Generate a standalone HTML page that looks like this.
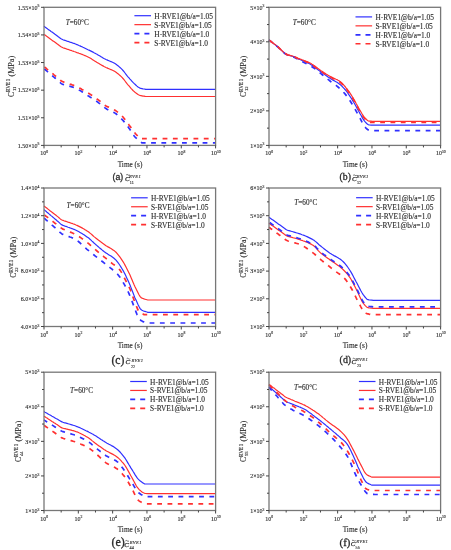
<!DOCTYPE html><html><head><meta charset="utf-8"><style>html,body{margin:0;padding:0;background:#fff;}svg{display:block;}svg{will-change:transform;}text{font-family:"Liberation Serif",serif;fill:#2a2a2a;stroke:#2a2a2a;stroke-width:0.12px;}</style></head><body>
<svg width="451" height="550" viewBox="0 0 451 550">
<rect width="451" height="550" fill="#fff"/>
<g><path d="M44.0 26.2 45.0 27.0 46.0 27.7 47.0 28.4 48.0 29.2 49.0 29.9 50.0 30.6 51.0 31.4 52.0 32.1 53.0 32.8 54.0 33.5 55.0 34.3 56.0 35.0 57.0 35.7 58.0 36.5 59.0 37.2 60.0 38.1 61.0 38.8 62.0 39.3 63.0 39.8 64.0 40.1 65.0 40.4 66.0 40.7 67.0 41.1 68.0 41.4 69.0 41.7 70.0 42.1 71.0 42.4 72.0 42.7 73.0 43.1 74.0 43.4 75.0 43.8 76.0 44.2 77.0 44.6 78.0 45.0 79.0 45.5 80.0 45.9 81.0 46.4 82.0 46.8 83.0 47.3 84.0 47.7 85.0 48.2 86.0 48.7 87.0 49.2 88.0 49.7 89.0 50.1 90.0 50.6 91.0 51.1 92.0 51.6 93.0 52.1 94.0 52.7 95.0 53.2 96.0 53.8 97.0 54.3 98.0 54.9 99.0 55.5 100.0 56.1 101.0 56.7 102.0 57.3 103.0 57.9 104.0 58.5 105.0 59.0 106.0 59.5 107.0 59.9 108.0 60.4 109.0 60.8 110.0 61.2 111.0 61.6 112.0 62.0 113.0 62.5 114.0 63.0 115.0 63.6 116.0 64.2 117.0 65.0 118.0 65.7 119.0 66.6 120.0 67.5 121.0 68.4 122.0 69.4 123.0 70.5 124.0 71.7 125.0 73.0 126.0 74.3 127.0 75.6 128.0 76.8 129.0 77.9 130.0 79.1 131.0 80.2 132.0 81.3 133.0 82.4 134.0 83.4 135.0 84.3 136.0 85.2 137.0 86.1 138.0 86.9 139.0 87.6 140.0 88.1 141.0 88.4 142.0 88.7 143.0 88.9 144.0 89.0 145.0 89.2 145.5 89.3 H215.6" fill="none" stroke="#3030ff" stroke-width="1.2"/><path d="M44.0 34.4 45.0 35.1 46.0 35.8 47.0 36.6 48.0 37.3 49.0 38.0 50.0 38.7 51.0 39.4 52.0 40.2 53.0 40.9 54.0 41.6 55.0 42.3 56.0 43.0 57.0 43.8 58.0 44.5 59.0 45.3 60.0 46.1 61.0 46.8 62.0 47.3 63.0 47.8 64.0 48.1 65.0 48.4 66.0 48.7 67.0 49.1 68.0 49.4 69.0 49.7 70.0 50.1 71.0 50.4 72.0 50.8 73.0 51.1 74.0 51.5 75.0 51.8 76.0 52.2 77.0 52.6 78.0 52.9 79.0 53.3 80.0 53.6 81.0 54.0 82.0 54.4 83.0 54.8 84.0 55.2 85.0 55.6 86.0 56.0 87.0 56.5 88.0 57.0 89.0 57.5 90.0 58.0 91.0 58.6 92.0 59.3 93.0 59.9 94.0 60.6 95.0 61.2 96.0 61.8 97.0 62.4 98.0 63.0 99.0 63.6 100.0 64.2 101.0 64.8 102.0 65.4 103.0 65.9 104.0 66.5 105.0 67.0 106.0 67.5 107.0 67.9 108.0 68.4 109.0 68.8 110.0 69.2 111.0 69.6 112.0 70.0 113.0 70.5 114.0 71.0 115.0 71.6 116.0 72.2 117.0 73.0 118.0 73.7 119.0 74.6 120.0 75.5 121.0 76.4 122.0 77.4 123.0 78.5 124.0 79.7 125.0 81.0 126.0 82.3 127.0 83.6 128.0 84.8 129.0 85.9 130.0 87.1 131.0 88.3 132.0 89.4 133.0 90.5 134.0 91.4 135.0 92.3 136.0 93.1 137.0 93.8 138.0 94.5 139.0 95.0 140.0 95.4 141.0 95.7 142.0 95.9 143.0 96.1 144.0 96.2 145.0 96.4 145.5 96.5 H215.6" fill="none" stroke="#ff3030" stroke-width="1.2"/><path d="M215.6 142.8 H141.9 L 141.0 142.1 140.0 141.3 139.0 140.5 138.0 139.8 137.0 138.9 136.0 138.0 135.0 137.0 134.0 135.7 133.0 134.3 132.0 132.7 131.0 131.1 130.0 129.6 129.0 128.2 128.0 126.8 127.0 125.5 126.0 124.1 125.0 122.8 124.0 121.6 123.0 120.4 122.0 119.4 121.0 118.3 120.0 117.3 119.0 116.3 118.0 115.4 117.0 114.6 116.0 113.8 115.0 113.1 114.0 112.5 113.0 112.0 112.0 111.5 111.0 111.1 110.0 110.6 109.0 110.2 108.0 109.7 107.0 109.2 106.0 108.6 105.0 107.9 104.0 107.2 103.0 106.3 102.0 105.5 101.0 104.6 100.0 103.8 99.0 103.1 98.0 102.3 97.0 101.6 96.0 100.9 95.0 100.2 94.0 99.6 93.0 98.9 92.0 98.3 91.0 97.6 90.0 97.0 89.0 96.3 88.0 95.7 87.0 95.0 86.0 94.4 85.0 93.7 84.0 93.0 83.0 92.4 82.0 91.7 81.0 91.1 80.0 90.4 79.0 89.9 78.0 89.3 77.0 88.8 76.0 88.3 75.0 87.9 74.0 87.6 73.0 87.2 72.0 86.9 71.0 86.6 70.0 86.3 69.0 86.1 68.0 85.8 67.0 85.5 66.0 85.2 65.0 84.9 64.0 84.7 63.0 84.4 62.0 84.0 61.0 83.4 60.0 82.5 59.0 81.5 58.0 80.6 57.0 79.7 56.0 78.9 55.0 78.0 54.0 77.2 53.0 76.3 52.0 75.4 51.0 74.6 50.0 73.7 49.0 72.9 48.0 72.0 47.0 71.2 46.0 70.3 45.0 69.5 44.0 68.6" fill="none" stroke="#3030ff" stroke-width="1.7" stroke-dasharray="4.8 5.5" stroke-dashoffset="2.10"/><path d="M215.6 138.6 H139.9 L 139.0 137.6 138.0 136.5 137.0 135.3 136.0 134.2 135.0 133.0 134.0 131.7 133.0 130.3 132.0 129.0 131.0 127.6 130.0 126.2 129.0 124.9 128.0 123.5 127.0 122.2 126.0 120.8 125.0 119.4 124.0 118.2 123.0 117.0 122.0 116.0 121.0 115.0 120.0 114.1 119.0 113.2 118.0 112.4 117.0 111.6 116.0 110.9 115.0 110.2 114.0 109.6 113.0 109.1 112.0 108.6 111.0 108.2 110.0 107.7 109.0 107.3 108.0 106.9 107.0 106.4 106.0 105.9 105.0 105.3 104.0 104.6 103.0 103.8 102.0 103.0 101.0 102.1 100.0 101.2 99.0 100.4 98.0 99.7 97.0 99.0 96.0 98.2 95.0 97.5 94.0 96.8 93.0 96.1 92.0 95.4 91.0 94.8 90.0 94.1 89.0 93.5 88.0 92.9 87.0 92.3 86.0 91.7 85.0 91.1 84.0 90.5 83.0 89.9 82.0 89.4 81.0 88.8 80.0 88.3 79.0 87.8 78.0 87.3 77.0 86.8 76.0 86.3 75.0 85.9 74.0 85.5 73.0 85.1 72.0 84.8 71.0 84.4 70.0 84.1 69.0 83.7 68.0 83.4 67.0 83.1 66.0 82.7 65.0 82.4 64.0 82.1 63.0 81.7 62.0 81.3 61.0 80.7 60.0 79.8 59.0 78.9 58.0 78.0 57.0 77.2 56.0 76.4 55.0 75.6 54.0 74.8 53.0 73.9 52.0 73.1 51.0 72.3 50.0 71.5 49.0 70.7 48.0 69.9 47.0 69.1 46.0 68.2 45.0 67.4 44.0 66.6" fill="none" stroke="#ff3030" stroke-width="1.7" stroke-dasharray="4.8 5.5" stroke-dashoffset="3.30"/><rect x="44.00" y="7.30" width="171.60" height="138.10" fill="none" stroke="#777" stroke-width="1.3"/><line x1="44.00" y1="145.40" x2="44.00" y2="148.40" stroke="#444" stroke-width="1"/><text x="44.20" y="155.40" font-size="6" text-anchor="middle">10<tspan font-size="3.8" dy="-2.2">0</tspan></text><line x1="61.16" y1="145.40" x2="61.16" y2="147.40" stroke="#444" stroke-width="1"/><line x1="78.32" y1="145.40" x2="78.32" y2="148.40" stroke="#444" stroke-width="1"/><text x="78.52" y="155.40" font-size="6" text-anchor="middle">10<tspan font-size="3.8" dy="-2.2">2</tspan></text><line x1="95.48" y1="145.40" x2="95.48" y2="147.40" stroke="#444" stroke-width="1"/><line x1="112.64" y1="145.40" x2="112.64" y2="148.40" stroke="#444" stroke-width="1"/><text x="112.84" y="155.40" font-size="6" text-anchor="middle">10<tspan font-size="3.8" dy="-2.2">4</tspan></text><line x1="129.80" y1="145.40" x2="129.80" y2="147.40" stroke="#444" stroke-width="1"/><line x1="146.96" y1="145.40" x2="146.96" y2="148.40" stroke="#444" stroke-width="1"/><text x="147.16" y="155.40" font-size="6" text-anchor="middle">10<tspan font-size="3.8" dy="-2.2">6</tspan></text><line x1="164.12" y1="145.40" x2="164.12" y2="147.40" stroke="#444" stroke-width="1"/><line x1="181.28" y1="145.40" x2="181.28" y2="148.40" stroke="#444" stroke-width="1"/><text x="181.48" y="155.40" font-size="6" text-anchor="middle">10<tspan font-size="3.8" dy="-2.2">8</tspan></text><line x1="198.44" y1="145.40" x2="198.44" y2="147.40" stroke="#444" stroke-width="1"/><line x1="215.60" y1="145.40" x2="215.60" y2="148.40" stroke="#444" stroke-width="1"/><text x="215.80" y="155.40" font-size="6" text-anchor="middle">10<tspan font-size="3.8" dy="-2.2">10</tspan></text><line x1="41.00" y1="7.30" x2="44.00" y2="7.30" stroke="#444" stroke-width="1"/><text x="39.50" y="9.50" font-size="6" text-anchor="end">1.55×10<tspan font-size="3.8" dy="-2.2">5</tspan></text><line x1="41.00" y1="34.92" x2="44.00" y2="34.92" stroke="#444" stroke-width="1"/><text x="39.50" y="37.12" font-size="6" text-anchor="end">1.54×10<tspan font-size="3.8" dy="-2.2">5</tspan></text><line x1="41.00" y1="62.54" x2="44.00" y2="62.54" stroke="#444" stroke-width="1"/><text x="39.50" y="64.74" font-size="6" text-anchor="end">1.53×10<tspan font-size="3.8" dy="-2.2">5</tspan></text><line x1="41.00" y1="90.16" x2="44.00" y2="90.16" stroke="#444" stroke-width="1"/><text x="39.50" y="92.36" font-size="6" text-anchor="end">1.52×10<tspan font-size="3.8" dy="-2.2">5</tspan></text><line x1="41.00" y1="117.78" x2="44.00" y2="117.78" stroke="#444" stroke-width="1"/><text x="39.50" y="119.98" font-size="6" text-anchor="end">1.51×10<tspan font-size="3.8" dy="-2.2">5</tspan></text><line x1="41.00" y1="145.40" x2="44.00" y2="145.40" stroke="#444" stroke-width="1"/><text x="39.50" y="147.60" font-size="6" text-anchor="end">1.50×10<tspan font-size="3.8" dy="-2.2">5</tspan></text><text x="130.00" y="167.00" font-size="7.3" text-anchor="middle">Time (s)</text><text transform="translate(13.70 96.95) rotate(-90)"><tspan x="0" y="0" font-size="7.6">C</tspan><tspan x="5.0" y="-3.5" font-size="5.4">RVE1</tspan><tspan x="5.9" y="1.9" font-size="4.6">11</tspan><tspan x="20.4" y="0" font-size="8.1">(MPa)</tspan></text><text x="65.80" y="24.90" font-size="7.2"><tspan font-style="italic">T</tspan>=60°C</text><line x1="134.40" y1="15.70" x2="151.00" y2="15.70" stroke="#3030ff" stroke-width="1.2"/><text x="154.30" y="18.70" font-size="7.4">H-RVE1@b/a=1.05</text><line x1="134.40" y1="24.65" x2="151.00" y2="24.65" stroke="#ff3030" stroke-width="1.2"/><text x="154.30" y="27.65" font-size="7.4">S-RVE1@b/a=1.05</text><line x1="134.40" y1="33.60" x2="151.00" y2="33.60" stroke="#3030ff" stroke-width="1.7" stroke-dasharray="5 5" /><text x="154.30" y="36.60" font-size="7.4">H-RVE1@b/a=1.0</text><line x1="134.40" y1="42.55" x2="151.00" y2="42.55" stroke="#ff3030" stroke-width="1.7" stroke-dasharray="5 5" /><text x="154.30" y="45.55" font-size="7.4">S-RVE1@b/a=1.0</text><text x="112.60" y="179.60" font-size="8.70" style="font-family:&quot;Liberation Sans&quot;,sans-serif;stroke-width:0.3px">(a)</text><text x="125.00" y="180.50" font-size="7" font-style="italic" style="stroke-width:0.25px">C</text><path d="M126.20 174.90 q0.9 -0.9 1.8 0 t1.8 0" fill="none" stroke="#333" stroke-width="0.7"/><text x="129.00" y="178.20" font-size="4.6" font-style="italic" letter-spacing="0.35">RVE1</text><text x="129.80" y="184.20" font-size="4.2">11</text></g>
<g><path d="M269.0 40.0 270.0 40.8 271.0 41.5 272.0 42.3 273.0 43.1 274.0 43.9 275.0 44.6 276.0 45.4 277.0 46.2 278.0 47.0 279.0 47.9 280.0 48.9 281.0 49.9 282.0 50.9 283.0 51.8 284.0 52.7 285.0 53.4 286.0 54.1 287.0 54.5 288.0 55.0 289.0 55.3 290.0 55.6 291.0 55.9 292.0 56.2 293.0 56.5 294.0 56.9 295.0 57.3 296.0 57.7 297.0 58.2 298.0 58.6 299.0 59.1 300.0 59.5 301.0 60.0 302.0 60.4 303.0 60.8 304.0 61.3 305.0 61.7 306.0 62.1 307.0 62.6 308.0 63.0 309.0 63.5 310.0 64.1 311.0 64.7 312.0 65.3 313.0 66.0 314.0 66.7 315.0 67.4 316.0 68.2 317.0 68.9 318.0 69.7 319.0 70.4 320.0 71.2 321.0 71.9 322.0 72.6 323.0 73.3 324.0 74.1 325.0 74.8 326.0 75.5 327.0 76.2 328.0 76.9 329.0 77.6 330.0 78.3 331.0 78.9 332.0 79.5 333.0 80.1 334.0 80.6 335.0 81.2 336.0 81.8 337.0 82.3 338.0 83.0 339.0 83.7 340.0 84.4 341.0 85.3 342.0 86.2 343.0 87.3 344.0 88.4 345.0 89.5 346.0 90.7 347.0 92.0 348.0 93.3 349.0 94.8 350.0 96.3 351.0 97.8 352.0 99.4 353.0 101.1 354.0 102.7 355.0 104.5 356.0 106.3 357.0 108.2 358.0 110.0 359.0 111.8 360.0 113.6 361.0 115.3 362.0 117.1 363.0 118.9 364.0 120.4 365.0 121.7 366.0 122.8 367.0 123.7 368.0 124.5 369.0 124.9 370.0 125.0 371.0 125.1 372.0 125.1 H440.6" fill="none" stroke="#3030ff" stroke-width="1.2"/><path d="M269.0 40.0 270.0 40.8 271.0 41.5 272.0 42.3 273.0 43.0 274.0 43.8 275.0 44.5 276.0 45.3 277.0 46.1 278.0 46.9 279.0 47.8 280.0 48.8 281.0 49.8 282.0 50.7 283.0 51.7 284.0 52.5 285.0 53.3 286.0 53.9 287.0 54.4 288.0 54.8 289.0 55.1 290.0 55.4 291.0 55.7 292.0 55.9 293.0 56.2 294.0 56.6 295.0 56.9 296.0 57.3 297.0 57.7 298.0 58.2 299.0 58.6 300.0 59.0 301.0 59.4 302.0 59.8 303.0 60.1 304.0 60.5 305.0 60.9 306.0 61.2 307.0 61.6 308.0 62.1 309.0 62.5 310.0 63.0 311.0 63.5 312.0 64.2 313.0 64.8 314.0 65.6 315.0 66.3 316.0 67.1 317.0 67.8 318.0 68.6 319.0 69.3 320.0 70.0 321.0 70.7 322.0 71.3 323.0 72.0 324.0 72.7 325.0 73.3 326.0 74.0 327.0 74.6 328.0 75.2 329.0 75.8 330.0 76.4 331.0 76.9 332.0 77.4 333.0 77.9 334.0 78.3 335.0 78.7 336.0 79.2 337.0 79.6 338.0 80.2 339.0 80.7 340.0 81.4 341.0 82.2 342.0 83.1 343.0 84.2 344.0 85.3 345.0 86.5 346.0 87.8 347.0 89.0 348.0 90.3 349.0 91.7 350.0 93.2 351.0 94.7 352.0 96.3 353.0 97.9 354.0 99.5 355.0 101.3 356.0 103.2 357.0 105.0 358.0 106.9 359.0 108.7 360.0 110.4 361.0 112.0 362.0 113.7 363.0 115.3 364.0 116.8 365.0 118.0 366.0 119.0 367.0 120.0 368.0 120.7 369.0 121.1 370.0 121.2 371.0 121.2 372.0 121.3 H440.6" fill="none" stroke="#ff3030" stroke-width="1.2"/><path d="M440.6 130.7 H373.0 L 372.0 130.6 371.0 130.6 370.0 130.5 369.0 130.3 368.0 129.8 367.0 129.0 366.0 128.1 365.0 127.1 364.0 125.7 363.0 124.0 362.0 122.1 361.0 120.1 360.0 118.2 359.0 116.4 358.0 114.6 357.0 112.7 356.0 110.9 355.0 109.1 354.0 107.4 353.0 105.7 352.0 104.0 351.0 102.3 350.0 100.7 349.0 99.2 348.0 97.7 347.0 96.3 346.0 95.1 345.0 93.9 344.0 92.8 343.0 91.7 342.0 90.7 341.0 89.7 340.0 88.8 339.0 87.9 338.0 87.0 337.0 86.2 336.0 85.4 335.0 84.6 334.0 83.9 333.0 83.2 332.0 82.5 331.0 81.8 330.0 81.0 329.0 80.2 328.0 79.4 327.0 78.6 326.0 77.8 325.0 77.0 324.0 76.1 323.0 75.3 322.0 74.5 321.0 73.7 320.0 72.8 319.0 72.0 318.0 71.1 317.0 70.3 316.0 69.5 315.0 68.7 314.0 68.0 313.0 67.4 312.0 66.8 311.0 66.2 310.0 65.6 309.0 65.1 308.0 64.6 307.0 64.1 306.0 63.5 305.0 63.0 304.0 62.5 303.0 62.0 302.0 61.4 301.0 60.9 300.0 60.3 299.0 59.8 298.0 59.2 297.0 58.7 296.0 58.2 295.0 57.8 294.0 57.3 293.0 56.9 292.0 56.6 291.0 56.3 290.0 56.0 289.0 55.6 288.0 55.2 287.0 54.8 286.0 54.3 285.0 53.6 284.0 52.8 283.0 52.0 282.0 51.0 281.0 50.1 280.0 49.1 279.0 48.1 278.0 47.2 277.0 46.4 276.0 45.6 275.0 44.8 274.0 44.0 273.0 43.2 272.0 42.4 271.0 41.6 270.0 40.8 269.0 40.0" fill="none" stroke="#3030ff" stroke-width="1.7" stroke-dasharray="4.8 5.5" stroke-dashoffset="0.20"/><path d="M440.6 122.4 H372.0 L 371.0 122.3 370.0 122.3 369.0 122.2 368.0 121.8 367.0 121.1 366.0 120.1 365.0 119.0 364.0 117.8 363.0 116.4 362.0 114.7 361.0 113.1 360.0 111.4 359.0 109.7 358.0 107.9 357.0 106.0 356.0 104.1 355.0 102.3 354.0 100.5 353.0 98.8 352.0 97.2 351.0 95.6 350.0 94.1 349.0 92.6 348.0 91.2 347.0 89.9 346.0 88.6 345.0 87.4 344.0 86.1 343.0 85.0 342.0 83.9 341.0 83.0 340.0 82.2 339.0 81.5 338.0 80.9 337.0 80.4 336.0 79.9 335.0 79.5 334.0 79.0 333.0 78.6 332.0 78.1 331.0 77.6 330.0 77.1 329.0 76.5 328.0 75.9 327.0 75.3 326.0 74.6 325.0 73.9 324.0 73.3 323.0 72.6 322.0 71.9 321.0 71.2 320.0 70.6 319.0 69.9 318.0 69.1 317.0 68.4 316.0 67.6 315.0 66.8 314.0 66.1 313.0 65.3 312.0 64.6 311.0 64.0 310.0 63.5 309.0 63.0 308.0 62.5 307.0 62.1 306.0 61.7 305.0 61.3 304.0 60.9 303.0 60.5 302.0 60.1 301.0 59.7 300.0 59.3 299.0 58.9 298.0 58.5 297.0 58.0 296.0 57.6 295.0 57.2 294.0 56.8 293.0 56.5 292.0 56.2 291.0 55.9 290.0 55.6 289.0 55.3 288.0 55.0 287.0 54.6 286.0 54.1 285.0 53.5 284.0 52.7 283.0 51.8 282.0 50.9 281.0 49.9 280.0 48.9 279.0 47.9 278.0 47.0 277.0 46.2 276.0 45.4 275.0 44.6 274.0 43.8 273.0 43.1 272.0 42.3 271.0 41.5 270.0 40.8 269.0 40.0" fill="none" stroke="#ff3030" stroke-width="1.7" stroke-dasharray="4.8 5.5" stroke-dashoffset="6.20"/><rect x="269.00" y="7.30" width="171.60" height="138.10" fill="none" stroke="#777" stroke-width="1.3"/><line x1="269.00" y1="145.40" x2="269.00" y2="148.40" stroke="#444" stroke-width="1"/><text x="269.20" y="155.40" font-size="6" text-anchor="middle">10<tspan font-size="3.8" dy="-2.2">0</tspan></text><line x1="286.16" y1="145.40" x2="286.16" y2="147.40" stroke="#444" stroke-width="1"/><line x1="303.32" y1="145.40" x2="303.32" y2="148.40" stroke="#444" stroke-width="1"/><text x="303.52" y="155.40" font-size="6" text-anchor="middle">10<tspan font-size="3.8" dy="-2.2">2</tspan></text><line x1="320.48" y1="145.40" x2="320.48" y2="147.40" stroke="#444" stroke-width="1"/><line x1="337.64" y1="145.40" x2="337.64" y2="148.40" stroke="#444" stroke-width="1"/><text x="337.84" y="155.40" font-size="6" text-anchor="middle">10<tspan font-size="3.8" dy="-2.2">4</tspan></text><line x1="354.80" y1="145.40" x2="354.80" y2="147.40" stroke="#444" stroke-width="1"/><line x1="371.96" y1="145.40" x2="371.96" y2="148.40" stroke="#444" stroke-width="1"/><text x="372.16" y="155.40" font-size="6" text-anchor="middle">10<tspan font-size="3.8" dy="-2.2">6</tspan></text><line x1="389.12" y1="145.40" x2="389.12" y2="147.40" stroke="#444" stroke-width="1"/><line x1="406.28" y1="145.40" x2="406.28" y2="148.40" stroke="#444" stroke-width="1"/><text x="406.48" y="155.40" font-size="6" text-anchor="middle">10<tspan font-size="3.8" dy="-2.2">8</tspan></text><line x1="423.44" y1="145.40" x2="423.44" y2="147.40" stroke="#444" stroke-width="1"/><line x1="440.60" y1="145.40" x2="440.60" y2="148.40" stroke="#444" stroke-width="1"/><text x="440.80" y="155.40" font-size="6" text-anchor="middle">10<tspan font-size="3.8" dy="-2.2">10</tspan></text><line x1="266.00" y1="7.30" x2="269.00" y2="7.30" stroke="#444" stroke-width="1"/><text x="264.50" y="9.50" font-size="6" text-anchor="end">5×10<tspan font-size="3.8" dy="-2.2">3</tspan></text><line x1="267.00" y1="24.56" x2="269.00" y2="24.56" stroke="#444" stroke-width="1"/><line x1="266.00" y1="41.82" x2="269.00" y2="41.82" stroke="#444" stroke-width="1"/><text x="264.50" y="44.02" font-size="6" text-anchor="end">4×10<tspan font-size="3.8" dy="-2.2">3</tspan></text><line x1="267.00" y1="59.09" x2="269.00" y2="59.09" stroke="#444" stroke-width="1"/><line x1="266.00" y1="76.35" x2="269.00" y2="76.35" stroke="#444" stroke-width="1"/><text x="264.50" y="78.55" font-size="6" text-anchor="end">3×10<tspan font-size="3.8" dy="-2.2">3</tspan></text><line x1="267.00" y1="93.61" x2="269.00" y2="93.61" stroke="#444" stroke-width="1"/><line x1="266.00" y1="110.87" x2="269.00" y2="110.87" stroke="#444" stroke-width="1"/><text x="264.50" y="113.07" font-size="6" text-anchor="end">2×10<tspan font-size="3.8" dy="-2.2">3</tspan></text><line x1="267.00" y1="128.14" x2="269.00" y2="128.14" stroke="#444" stroke-width="1"/><line x1="266.00" y1="145.40" x2="269.00" y2="145.40" stroke="#444" stroke-width="1"/><text x="264.50" y="147.60" font-size="6" text-anchor="end">1×10<tspan font-size="3.8" dy="-2.2">3</tspan></text><text x="355.00" y="167.00" font-size="7.3" text-anchor="middle">Time (s)</text><text transform="translate(246.20 96.95) rotate(-90)"><tspan x="0" y="0" font-size="7.6">C</tspan><tspan x="5.0" y="-3.5" font-size="5.4">RVE1</tspan><tspan x="5.9" y="1.9" font-size="4.6">12</tspan><tspan x="20.4" y="0" font-size="8.1">(MPa)</tspan></text><text x="292.80" y="25.00" font-size="7.2"><tspan font-style="italic">T</tspan>=60°C</text><line x1="355.50" y1="16.90" x2="372.10" y2="16.90" stroke="#3030ff" stroke-width="1.2"/><text x="375.40" y="19.90" font-size="7.4">H-RVE1@b/a=1.05</text><line x1="355.50" y1="25.85" x2="372.10" y2="25.85" stroke="#ff3030" stroke-width="1.2"/><text x="375.40" y="28.85" font-size="7.4">S-RVE1@b/a=1.05</text><line x1="355.50" y1="34.80" x2="372.10" y2="34.80" stroke="#3030ff" stroke-width="1.7" stroke-dasharray="5 5" /><text x="375.40" y="37.80" font-size="7.4">H-RVE1@b/a=1.0</text><line x1="355.50" y1="43.75" x2="372.10" y2="43.75" stroke="#ff3030" stroke-width="1.7" stroke-dasharray="5 5" /><text x="375.40" y="46.75" font-size="7.4">S-RVE1@b/a=1.0</text><text x="339.60" y="180.00" font-size="9.70" style="stroke-width:0.3px">(b)</text><text x="352.00" y="180.90" font-size="7" font-style="italic" style="stroke-width:0.25px">C</text><path d="M353.20 175.30 q0.9 -0.9 1.8 0 t1.8 0" fill="none" stroke="#333" stroke-width="0.7"/><text x="356.70" y="178.30" font-size="4.6" font-style="italic" letter-spacing="0.35">RVE1</text><text x="357.00" y="184.20" font-size="4.2">12</text></g>
<g><path d="M44.0 209.6 45.0 210.5 46.0 211.3 47.0 212.2 48.0 213.0 49.0 213.9 50.0 214.7 51.0 215.6 52.0 216.4 53.0 217.3 54.0 218.1 55.0 219.0 56.0 219.8 57.0 220.7 58.0 221.5 59.0 222.4 60.0 223.4 61.0 224.2 62.0 224.9 63.0 225.4 64.0 225.7 65.0 226.1 66.0 226.4 67.0 226.8 68.0 227.2 69.0 227.5 70.0 227.9 71.0 228.2 72.0 228.6 73.0 229.0 74.0 229.4 75.0 229.8 76.0 230.3 77.0 230.8 78.0 231.3 79.0 231.8 80.0 232.4 81.0 233.0 82.0 233.6 83.0 234.2 84.0 234.8 85.0 235.5 86.0 236.2 87.0 236.9 88.0 237.6 89.0 238.3 90.0 239.2 91.0 240.1 92.0 241.1 93.0 242.0 94.0 243.0 95.0 243.9 96.0 244.8 97.0 245.6 98.0 246.5 99.0 247.4 100.0 248.2 101.0 249.0 102.0 249.9 103.0 250.7 104.0 251.5 105.0 252.2 106.0 252.9 107.0 253.6 108.0 254.3 109.0 254.9 110.0 255.5 111.0 256.1 112.0 256.8 113.0 257.5 114.0 258.3 115.0 259.2 116.0 260.2 117.0 261.4 118.0 262.7 119.0 264.0 120.0 265.5 121.0 267.1 122.0 268.7 123.0 270.4 124.0 272.2 125.0 274.1 126.0 276.2 127.0 278.4 128.0 280.6 129.0 282.8 130.0 285.1 131.0 287.6 132.0 290.2 133.0 292.8 134.0 295.4 135.0 297.9 136.0 300.1 137.0 302.3 138.0 304.5 139.0 306.5 140.0 308.3 141.0 309.5 142.0 310.2 143.0 310.7 144.0 311.1 145.0 311.4 146.0 311.7 147.0 312.0 147.7 312.3 H215.6" fill="none" stroke="#3030ff" stroke-width="1.2"/><path d="M44.0 206.0 45.0 206.8 46.0 207.6 47.0 208.3 48.0 209.1 49.0 209.9 50.0 210.7 51.0 211.4 52.0 212.2 53.0 213.0 54.0 213.8 55.0 214.6 56.0 215.3 57.0 216.1 58.0 216.9 59.0 217.7 60.0 218.6 61.0 219.4 62.0 220.0 63.0 220.4 64.0 220.8 65.0 221.1 66.0 221.4 67.0 221.7 68.0 222.1 69.0 222.4 70.0 222.7 71.0 223.1 72.0 223.4 73.0 223.8 74.0 224.1 75.0 224.5 76.0 225.0 77.0 225.4 78.0 225.9 79.0 226.4 80.0 226.9 81.0 227.4 82.0 227.9 83.0 228.5 84.0 229.1 85.0 229.7 86.0 230.3 87.0 230.9 88.0 231.6 89.0 232.3 90.0 233.1 91.0 233.9 92.0 234.8 93.0 235.7 94.0 236.6 95.0 237.4 96.0 238.2 97.0 239.0 98.0 239.8 99.0 240.6 100.0 241.3 101.0 242.1 102.0 242.8 103.0 243.6 104.0 244.3 105.0 245.0 106.0 245.7 107.0 246.3 108.0 246.9 109.0 247.4 110.0 248.0 111.0 248.6 112.0 249.2 113.0 249.9 114.0 250.6 115.0 251.4 116.0 252.3 117.0 253.4 118.0 254.6 119.0 255.8 120.0 257.2 121.0 258.6 122.0 260.1 123.0 261.6 124.0 263.3 125.0 265.1 126.0 267.0 127.0 268.9 128.0 271.0 129.0 273.0 130.0 275.1 131.0 277.4 132.0 279.8 133.0 282.2 134.0 284.6 135.0 286.8 136.0 288.8 137.0 290.8 138.0 292.8 139.0 294.7 140.0 296.3 141.0 297.5 142.0 298.1 143.0 298.5 144.0 298.9 145.0 299.2 146.0 299.5 147.0 299.8 147.7 300.0 H215.6" fill="none" stroke="#ff3030" stroke-width="1.2"/><path d="M215.6 323.0 H147.7 L 147.0 322.8 146.0 322.5 145.0 322.2 144.0 321.9 143.0 321.6 142.0 321.1 141.0 320.5 140.0 319.6 139.0 318.2 138.0 316.6 137.0 314.5 136.0 311.9 135.0 309.1 134.0 306.5 133.0 303.9 132.0 301.3 131.0 298.6 130.0 296.1 129.0 293.7 128.0 291.5 127.0 289.5 126.0 287.5 125.0 285.7 124.0 283.9 123.0 282.1 122.0 280.4 121.0 278.8 120.0 277.3 119.0 275.9 118.0 274.7 117.0 273.6 116.0 272.6 115.0 271.7 114.0 270.9 113.0 270.1 112.0 269.2 111.0 268.4 110.0 267.6 109.0 266.7 108.0 265.9 107.0 265.1 106.0 264.4 105.0 263.6 104.0 262.8 103.0 262.0 102.0 261.3 101.0 260.5 100.0 259.7 99.0 259.0 98.0 258.2 97.0 257.4 96.0 256.6 95.0 255.8 94.0 255.0 93.0 254.2 92.0 253.4 91.0 252.6 90.0 251.7 89.0 250.9 88.0 250.1 87.0 249.3 86.0 248.4 85.0 247.6 84.0 246.7 83.0 245.8 82.0 244.9 81.0 243.9 80.0 242.9 79.0 242.0 78.0 241.2 77.0 240.4 76.0 239.7 75.0 239.1 74.0 238.6 73.0 238.1 72.0 237.7 71.0 237.3 70.0 237.0 69.0 236.6 68.0 236.3 67.0 235.9 66.0 235.5 65.0 235.1 64.0 234.8 63.0 234.4 62.0 233.9 61.0 233.2 60.0 232.3 59.0 231.3 58.0 230.4 57.0 229.5 56.0 228.6 55.0 227.7 54.0 226.8 53.0 225.9 52.0 225.1 51.0 224.2 50.0 223.3 49.0 222.4 48.0 221.5 47.0 220.7 46.0 219.8 45.0 218.9 44.0 218.0" fill="none" stroke="#3030ff" stroke-width="1.7" stroke-dasharray="4.8 5.5" stroke-dashoffset="0.60"/><path d="M215.6 314.6 H144.0 L 143.0 314.0 142.0 313.5 141.0 313.0 140.0 312.4 139.0 311.5 138.0 310.0 137.0 307.7 136.0 305.1 135.0 302.5 134.0 299.9 133.0 297.1 132.0 294.2 131.0 291.5 130.0 289.0 129.0 286.9 128.0 284.8 127.0 282.8 126.0 281.0 125.0 279.1 124.0 277.2 123.0 275.2 122.0 273.3 121.0 271.6 120.0 270.1 119.0 268.9 118.0 267.9 117.0 267.1 116.0 266.3 115.0 265.5 114.0 264.8 113.0 264.1 112.0 263.3 111.0 262.5 110.0 261.7 109.0 260.9 108.0 260.1 107.0 259.2 106.0 258.4 105.0 257.6 104.0 256.8 103.0 256.0 102.0 255.2 101.0 254.3 100.0 253.5 99.0 252.7 98.0 251.8 97.0 251.0 96.0 250.1 95.0 249.3 94.0 248.4 93.0 247.5 92.0 246.5 91.0 245.7 90.0 244.8 89.0 243.9 88.0 243.1 87.0 242.3 86.0 241.5 85.0 240.8 84.0 240.0 83.0 239.3 82.0 238.6 81.0 237.9 80.0 237.2 79.0 236.5 78.0 235.9 77.0 235.3 76.0 234.7 75.0 234.2 74.0 233.7 73.0 233.2 72.0 232.8 71.0 232.4 70.0 232.0 69.0 231.6 68.0 231.2 67.0 230.8 66.0 230.3 65.0 229.9 64.0 229.5 63.0 229.1 62.0 228.6 61.0 227.9 60.0 227.2 59.0 226.3 58.0 225.5 57.0 224.7 56.0 223.9 55.0 223.2 54.0 222.4 53.0 221.6 52.0 220.8 51.0 220.0 50.0 219.3 49.0 218.5 48.0 217.7 47.0 216.9 46.0 216.2 45.0 215.4 44.0 214.6" fill="none" stroke="#ff3030" stroke-width="1.7" stroke-dasharray="4.8 5.5" stroke-dashoffset="3.70"/><rect x="44.00" y="188.00" width="171.60" height="138.50" fill="none" stroke="#777" stroke-width="1.3"/><line x1="44.00" y1="326.50" x2="44.00" y2="329.50" stroke="#444" stroke-width="1"/><text x="44.20" y="336.50" font-size="6" text-anchor="middle">10<tspan font-size="3.8" dy="-2.2">0</tspan></text><line x1="61.16" y1="326.50" x2="61.16" y2="328.50" stroke="#444" stroke-width="1"/><line x1="78.32" y1="326.50" x2="78.32" y2="329.50" stroke="#444" stroke-width="1"/><text x="78.52" y="336.50" font-size="6" text-anchor="middle">10<tspan font-size="3.8" dy="-2.2">2</tspan></text><line x1="95.48" y1="326.50" x2="95.48" y2="328.50" stroke="#444" stroke-width="1"/><line x1="112.64" y1="326.50" x2="112.64" y2="329.50" stroke="#444" stroke-width="1"/><text x="112.84" y="336.50" font-size="6" text-anchor="middle">10<tspan font-size="3.8" dy="-2.2">4</tspan></text><line x1="129.80" y1="326.50" x2="129.80" y2="328.50" stroke="#444" stroke-width="1"/><line x1="146.96" y1="326.50" x2="146.96" y2="329.50" stroke="#444" stroke-width="1"/><text x="147.16" y="336.50" font-size="6" text-anchor="middle">10<tspan font-size="3.8" dy="-2.2">6</tspan></text><line x1="164.12" y1="326.50" x2="164.12" y2="328.50" stroke="#444" stroke-width="1"/><line x1="181.28" y1="326.50" x2="181.28" y2="329.50" stroke="#444" stroke-width="1"/><text x="181.48" y="336.50" font-size="6" text-anchor="middle">10<tspan font-size="3.8" dy="-2.2">8</tspan></text><line x1="198.44" y1="326.50" x2="198.44" y2="328.50" stroke="#444" stroke-width="1"/><line x1="215.60" y1="326.50" x2="215.60" y2="329.50" stroke="#444" stroke-width="1"/><text x="215.80" y="336.50" font-size="6" text-anchor="middle">10<tspan font-size="3.8" dy="-2.2">10</tspan></text><line x1="41.00" y1="188.00" x2="44.00" y2="188.00" stroke="#444" stroke-width="1"/><text x="39.50" y="190.20" font-size="6" text-anchor="end">1.4×10<tspan font-size="3.8" dy="-2.2">4</tspan></text><line x1="42.00" y1="201.85" x2="44.00" y2="201.85" stroke="#444" stroke-width="1"/><line x1="41.00" y1="215.70" x2="44.00" y2="215.70" stroke="#444" stroke-width="1"/><text x="39.50" y="217.90" font-size="6" text-anchor="end">1.2×10<tspan font-size="3.8" dy="-2.2">4</tspan></text><line x1="42.00" y1="229.55" x2="44.00" y2="229.55" stroke="#444" stroke-width="1"/><line x1="41.00" y1="243.40" x2="44.00" y2="243.40" stroke="#444" stroke-width="1"/><text x="39.50" y="245.60" font-size="6" text-anchor="end">1.0×10<tspan font-size="3.8" dy="-2.2">4</tspan></text><line x1="42.00" y1="257.25" x2="44.00" y2="257.25" stroke="#444" stroke-width="1"/><line x1="41.00" y1="271.10" x2="44.00" y2="271.10" stroke="#444" stroke-width="1"/><text x="39.50" y="273.30" font-size="6" text-anchor="end">8.0×10<tspan font-size="3.8" dy="-2.2">3</tspan></text><line x1="42.00" y1="284.95" x2="44.00" y2="284.95" stroke="#444" stroke-width="1"/><line x1="41.00" y1="298.80" x2="44.00" y2="298.80" stroke="#444" stroke-width="1"/><text x="39.50" y="301.00" font-size="6" text-anchor="end">6.0×10<tspan font-size="3.8" dy="-2.2">3</tspan></text><line x1="42.00" y1="312.65" x2="44.00" y2="312.65" stroke="#444" stroke-width="1"/><line x1="41.00" y1="326.50" x2="44.00" y2="326.50" stroke="#444" stroke-width="1"/><text x="39.50" y="328.70" font-size="6" text-anchor="end">4.0×10<tspan font-size="3.8" dy="-2.2">3</tspan></text><text x="130.00" y="348.10" font-size="7.3" text-anchor="middle">Time (s)</text><text transform="translate(16.20 277.85) rotate(-90)"><tspan x="0" y="0" font-size="7.6">C</tspan><tspan x="5.0" y="-3.5" font-size="5.4">RVE1</tspan><tspan x="5.9" y="1.9" font-size="4.6">22</tspan><tspan x="20.4" y="0" font-size="8.1">(MPa)</tspan></text><text x="66.60" y="207.80" font-size="7.2"><tspan font-style="italic">T</tspan>=60°C</text><line x1="131.10" y1="197.80" x2="147.70" y2="197.80" stroke="#3030ff" stroke-width="1.2"/><text x="151.00" y="200.80" font-size="7.4">H-RVE1@b/a=1.05</text><line x1="131.10" y1="206.75" x2="147.70" y2="206.75" stroke="#ff3030" stroke-width="1.2"/><text x="151.00" y="209.75" font-size="7.4">S-RVE1@b/a=1.05</text><line x1="131.10" y1="215.70" x2="147.70" y2="215.70" stroke="#3030ff" stroke-width="1.7" stroke-dasharray="5 5" /><text x="151.00" y="218.70" font-size="7.4">H-RVE1@b/a=1.0</text><line x1="131.10" y1="224.65" x2="147.70" y2="224.65" stroke="#ff3030" stroke-width="1.7" stroke-dasharray="5 5" /><text x="151.00" y="227.65" font-size="7.4">S-RVE1@b/a=1.0</text><text x="111.40" y="364.00" font-size="11.60" style="stroke-width:0.3px">(c)</text><text x="125.50" y="364.30" font-size="7" font-style="italic" style="stroke-width:0.25px">C</text><path d="M126.70 358.70 q0.9 -0.9 1.8 0 t1.8 0" fill="none" stroke="#333" stroke-width="0.7"/><text x="131.40" y="362.20" font-size="4.6" font-style="italic" letter-spacing="0.35">RVE1</text><text x="131.00" y="367.50" font-size="4.2">22</text></g>
<g><path d="M269.0 217.3 270.0 218.0 271.0 218.7 272.0 219.4 273.0 220.1 274.0 220.8 275.0 221.5 276.0 222.2 277.0 222.9 278.0 223.7 279.0 224.4 280.0 225.1 281.0 225.8 282.0 226.5 283.0 227.2 284.0 227.9 285.0 228.7 286.0 229.5 287.0 230.0 288.0 230.4 289.0 230.7 290.0 230.9 291.0 231.2 292.0 231.5 293.0 231.8 294.0 232.1 295.0 232.4 296.0 232.7 297.0 233.0 298.0 233.3 299.0 233.6 300.0 233.9 301.0 234.3 302.0 234.7 303.0 235.0 304.0 235.4 305.0 235.8 306.0 236.2 307.0 236.6 308.0 237.1 309.0 237.6 310.0 238.1 311.0 238.6 312.0 239.1 313.0 239.7 314.0 240.3 315.0 241.1 316.0 241.9 317.0 242.8 318.0 243.7 319.0 244.7 320.0 245.5 321.0 246.3 322.0 247.1 323.0 247.9 324.0 248.7 325.0 249.5 326.0 250.3 327.0 251.0 328.0 251.7 329.0 252.5 330.0 253.2 331.0 253.8 332.0 254.4 333.0 255.0 334.0 255.6 335.0 256.1 336.0 256.6 337.0 257.2 338.0 257.8 339.0 258.4 340.0 259.0 341.0 259.8 342.0 260.6 343.0 261.5 344.0 262.5 345.0 263.7 346.0 264.9 347.0 266.2 348.0 267.5 349.0 269.0 350.0 270.5 351.0 272.1 352.0 273.9 353.0 275.8 354.0 277.7 355.0 279.6 356.0 281.5 357.0 283.3 358.0 285.2 359.0 287.2 360.0 289.1 361.0 291.0 362.0 292.8 363.0 294.3 364.0 295.7 365.0 297.0 366.0 298.2 367.0 299.2 368.0 299.7 369.0 299.9 370.0 300.0 371.0 300.1 372.0 300.2 373.0 300.3 373.9 300.4 H440.6" fill="none" stroke="#3030ff" stroke-width="1.2"/><path d="M269.0 223.3 270.0 224.0 271.0 224.7 272.0 225.4 273.0 226.1 274.0 226.8 275.0 227.5 276.0 228.2 277.0 228.9 278.0 229.7 279.0 230.4 280.0 231.1 281.0 231.8 282.0 232.5 283.0 233.2 284.0 233.9 285.0 234.7 286.0 235.5 287.0 236.0 288.0 236.4 289.0 236.6 290.0 236.9 291.0 237.2 292.0 237.4 293.0 237.7 294.0 238.0 295.0 238.2 296.0 238.5 297.0 238.8 298.0 239.1 299.0 239.4 300.0 239.7 301.0 240.1 302.0 240.4 303.0 240.8 304.0 241.1 305.0 241.5 306.0 241.9 307.0 242.3 308.0 242.7 309.0 243.1 310.0 243.6 311.0 244.1 312.0 244.7 313.0 245.3 314.0 246.0 315.0 246.9 316.0 247.9 317.0 249.1 318.0 250.3 319.0 251.4 320.0 252.4 321.0 253.3 322.0 254.1 323.0 254.8 324.0 255.6 325.0 256.3 326.0 257.0 327.0 257.7 328.0 258.4 329.0 259.1 330.0 259.9 331.0 260.6 332.0 261.3 333.0 262.0 334.0 262.6 335.0 263.3 336.0 264.0 337.0 264.7 338.0 265.4 339.0 266.1 340.0 266.9 341.0 267.7 342.0 268.6 343.0 269.5 344.0 270.5 345.0 271.5 346.0 272.6 347.0 273.7 348.0 275.0 349.0 276.3 350.0 277.7 351.0 279.3 352.0 281.1 353.0 283.0 354.0 284.9 355.0 286.8 356.0 288.7 357.0 290.7 358.0 292.8 359.0 295.0 360.0 297.2 361.0 299.3 362.0 301.2 363.0 302.9 364.0 304.2 365.0 305.4 366.0 306.4 367.0 307.3 368.0 307.7 369.0 307.9 370.0 308.0 371.0 308.1 372.0 308.2 373.0 308.3 373.9 308.4 H440.6" fill="none" stroke="#ff3030" stroke-width="1.2"/><path d="M440.6 306.9 H373.9 L 373.0 306.8 372.0 306.7 371.0 306.6 370.0 306.5 369.0 306.4 368.0 306.2 367.0 305.8 366.0 304.9 365.0 303.9 364.0 302.7 363.0 301.4 362.0 299.7 361.0 297.8 360.0 295.7 359.0 293.6 358.0 291.4 357.0 289.4 356.0 287.5 355.0 285.5 354.0 283.6 353.0 281.7 352.0 279.9 351.0 278.1 350.0 276.5 349.0 275.1 348.0 273.8 347.0 272.5 346.0 271.4 345.0 270.3 344.0 269.3 343.0 268.3 342.0 267.4 341.0 266.5 340.0 265.7 339.0 265.0 338.0 264.2 337.0 263.6 336.0 262.9 335.0 262.2 334.0 261.6 333.0 260.9 332.0 260.3 331.0 259.6 330.0 258.9 329.0 258.1 328.0 257.4 327.0 256.7 326.0 256.0 325.0 255.3 324.0 254.6 323.0 253.8 322.0 253.0 321.0 252.2 320.0 251.4 319.0 250.5 318.0 249.4 317.0 248.3 316.0 247.1 315.0 246.1 314.0 245.3 313.0 244.6 312.0 244.0 311.0 243.4 310.0 242.9 309.0 242.4 308.0 241.9 307.0 241.5 306.0 241.1 305.0 240.7 304.0 240.3 303.0 239.9 302.0 239.5 301.0 239.2 300.0 238.8 299.0 238.5 298.0 238.2 297.0 237.9 296.0 237.6 295.0 237.3 294.0 237.0 293.0 236.8 292.0 236.5 291.0 236.2 290.0 235.9 289.0 235.7 288.0 235.4 287.0 235.0 286.0 234.4 285.0 233.7 284.0 232.9 283.0 232.1 282.0 231.4 281.0 230.7 280.0 229.9 279.0 229.2 278.0 228.5 277.0 227.8 276.0 227.1 275.0 226.3 274.0 225.6 273.0 224.9 272.0 224.2 271.0 223.4 270.0 222.7 269.0 222.0" fill="none" stroke="#3030ff" stroke-width="1.7" stroke-dasharray="4.8 5.5" stroke-dashoffset="4.70"/><path d="M440.6 314.6 H371.0 L 370.0 314.3 369.0 314.1 368.0 313.8 367.0 313.6 366.0 313.2 365.0 312.7 364.0 311.9 363.0 310.6 362.0 308.9 361.0 307.1 360.0 305.2 359.0 303.5 358.0 301.6 357.0 299.6 356.0 297.5 355.0 295.4 354.0 293.3 353.0 291.3 352.0 289.5 351.0 287.8 350.0 286.1 349.0 284.5 348.0 282.9 347.0 281.5 346.0 280.1 345.0 278.9 344.0 277.9 343.0 276.9 342.0 276.1 341.0 275.3 340.0 274.5 339.0 273.8 338.0 273.1 337.0 272.4 336.0 271.7 335.0 270.9 334.0 270.1 333.0 269.3 332.0 268.6 331.0 267.8 330.0 267.0 329.0 266.2 328.0 265.4 327.0 264.6 326.0 263.9 325.0 263.1 324.0 262.3 323.0 261.5 322.0 260.7 321.0 259.8 320.0 259.0 319.0 258.1 318.0 257.2 317.0 256.3 316.0 255.4 315.0 254.5 314.0 253.7 313.0 252.9 312.0 252.2 311.0 251.4 310.0 250.6 309.0 249.9 308.0 249.2 307.0 248.5 306.0 247.8 305.0 247.1 304.0 246.5 303.0 245.9 302.0 245.4 301.0 244.9 300.0 244.5 299.0 244.1 298.0 243.8 297.0 243.5 296.0 243.2 295.0 242.9 294.0 242.7 293.0 242.4 292.0 242.1 291.0 241.8 290.0 241.5 289.0 241.3 288.0 241.0 287.0 240.6 286.0 240.0 285.0 239.3 284.0 238.4 283.0 237.6 282.0 236.9 281.0 236.2 280.0 235.4 279.0 234.7 278.0 233.9 277.0 233.2 276.0 232.5 275.0 231.7 274.0 231.0 273.0 230.3 272.0 229.5 271.0 228.8 270.0 228.0 269.0 227.3" fill="none" stroke="#ff3030" stroke-width="1.7" stroke-dasharray="4.8 5.5" stroke-dashoffset="1.70"/><rect x="269.00" y="188.00" width="171.60" height="138.50" fill="none" stroke="#777" stroke-width="1.3"/><line x1="269.00" y1="326.50" x2="269.00" y2="329.50" stroke="#444" stroke-width="1"/><text x="269.20" y="336.50" font-size="6" text-anchor="middle">10<tspan font-size="3.8" dy="-2.2">0</tspan></text><line x1="286.16" y1="326.50" x2="286.16" y2="328.50" stroke="#444" stroke-width="1"/><line x1="303.32" y1="326.50" x2="303.32" y2="329.50" stroke="#444" stroke-width="1"/><text x="303.52" y="336.50" font-size="6" text-anchor="middle">10<tspan font-size="3.8" dy="-2.2">2</tspan></text><line x1="320.48" y1="326.50" x2="320.48" y2="328.50" stroke="#444" stroke-width="1"/><line x1="337.64" y1="326.50" x2="337.64" y2="329.50" stroke="#444" stroke-width="1"/><text x="337.84" y="336.50" font-size="6" text-anchor="middle">10<tspan font-size="3.8" dy="-2.2">4</tspan></text><line x1="354.80" y1="326.50" x2="354.80" y2="328.50" stroke="#444" stroke-width="1"/><line x1="371.96" y1="326.50" x2="371.96" y2="329.50" stroke="#444" stroke-width="1"/><text x="372.16" y="336.50" font-size="6" text-anchor="middle">10<tspan font-size="3.8" dy="-2.2">6</tspan></text><line x1="389.12" y1="326.50" x2="389.12" y2="328.50" stroke="#444" stroke-width="1"/><line x1="406.28" y1="326.50" x2="406.28" y2="329.50" stroke="#444" stroke-width="1"/><text x="406.48" y="336.50" font-size="6" text-anchor="middle">10<tspan font-size="3.8" dy="-2.2">8</tspan></text><line x1="423.44" y1="326.50" x2="423.44" y2="328.50" stroke="#444" stroke-width="1"/><line x1="440.60" y1="326.50" x2="440.60" y2="329.50" stroke="#444" stroke-width="1"/><text x="440.80" y="336.50" font-size="6" text-anchor="middle">10<tspan font-size="3.8" dy="-2.2">10</tspan></text><line x1="266.00" y1="188.00" x2="269.00" y2="188.00" stroke="#444" stroke-width="1"/><text x="264.50" y="190.20" font-size="6" text-anchor="end">6×10<tspan font-size="3.8" dy="-2.2">3</tspan></text><line x1="267.00" y1="201.85" x2="269.00" y2="201.85" stroke="#444" stroke-width="1"/><line x1="266.00" y1="215.70" x2="269.00" y2="215.70" stroke="#444" stroke-width="1"/><text x="264.50" y="217.90" font-size="6" text-anchor="end">5×10<tspan font-size="3.8" dy="-2.2">3</tspan></text><line x1="267.00" y1="229.55" x2="269.00" y2="229.55" stroke="#444" stroke-width="1"/><line x1="266.00" y1="243.40" x2="269.00" y2="243.40" stroke="#444" stroke-width="1"/><text x="264.50" y="245.60" font-size="6" text-anchor="end">4×10<tspan font-size="3.8" dy="-2.2">3</tspan></text><line x1="267.00" y1="257.25" x2="269.00" y2="257.25" stroke="#444" stroke-width="1"/><line x1="266.00" y1="271.10" x2="269.00" y2="271.10" stroke="#444" stroke-width="1"/><text x="264.50" y="273.30" font-size="6" text-anchor="end">3×10<tspan font-size="3.8" dy="-2.2">3</tspan></text><line x1="267.00" y1="284.95" x2="269.00" y2="284.95" stroke="#444" stroke-width="1"/><line x1="266.00" y1="298.80" x2="269.00" y2="298.80" stroke="#444" stroke-width="1"/><text x="264.50" y="301.00" font-size="6" text-anchor="end">2×10<tspan font-size="3.8" dy="-2.2">3</tspan></text><line x1="267.00" y1="312.65" x2="269.00" y2="312.65" stroke="#444" stroke-width="1"/><line x1="266.00" y1="326.50" x2="269.00" y2="326.50" stroke="#444" stroke-width="1"/><text x="264.50" y="328.70" font-size="6" text-anchor="end">1×10<tspan font-size="3.8" dy="-2.2">3</tspan></text><text x="355.00" y="348.10" font-size="7.3" text-anchor="middle">Time (s)</text><text transform="translate(246.20 277.85) rotate(-90)"><tspan x="0" y="0" font-size="7.6">C</tspan><tspan x="5.0" y="-3.5" font-size="5.4">RVE1</tspan><tspan x="5.9" y="1.9" font-size="4.6">23</tspan><tspan x="20.4" y="0" font-size="8.1">(MPa)</tspan></text><text x="294.30" y="204.70" font-size="7.2"><tspan font-style="italic">T</tspan>=60°C</text><line x1="356.10" y1="197.70" x2="372.70" y2="197.70" stroke="#3030ff" stroke-width="1.2"/><text x="376.00" y="200.70" font-size="7.4">H-RVE1@b/a=1.05</text><line x1="356.10" y1="206.65" x2="372.70" y2="206.65" stroke="#ff3030" stroke-width="1.2"/><text x="376.00" y="209.65" font-size="7.4">S-RVE1@b/a=1.05</text><line x1="356.10" y1="215.60" x2="372.70" y2="215.60" stroke="#3030ff" stroke-width="1.7" stroke-dasharray="5 5" /><text x="376.00" y="218.60" font-size="7.4">H-RVE1@b/a=1.0</text><line x1="356.10" y1="224.55" x2="372.70" y2="224.55" stroke="#ff3030" stroke-width="1.7" stroke-dasharray="5 5" /><text x="376.00" y="227.55" font-size="7.4">S-RVE1@b/a=1.0</text><text x="339.60" y="363.20" font-size="9.90" style="stroke-width:0.3px">(d)</text><text x="351.50" y="364.30" font-size="7" font-style="italic" style="stroke-width:0.25px">C</text><path d="M352.70 358.70 q0.9 -0.9 1.8 0 t1.8 0" fill="none" stroke="#333" stroke-width="0.7"/><text x="356.00" y="361.30" font-size="4.6" font-style="italic" letter-spacing="0.35">RVE1</text><text x="357.00" y="367.00" font-size="4.2">23</text></g>
<g><path d="M44.0 411.6 45.0 412.2 46.0 412.7 47.0 413.3 48.0 413.9 49.0 414.5 50.0 415.0 51.0 415.6 52.0 416.2 53.0 416.7 54.0 417.3 55.0 417.9 56.0 418.5 57.0 419.0 58.0 419.6 59.0 420.2 60.0 420.8 61.0 421.4 62.0 421.9 63.0 422.3 64.0 422.6 65.0 422.8 66.0 423.1 67.0 423.4 68.0 423.7 69.0 424.0 70.0 424.3 71.0 424.6 72.0 424.9 73.0 425.2 74.0 425.5 75.0 425.8 76.0 426.2 77.0 426.6 78.0 427.0 79.0 427.4 80.0 427.8 81.0 428.3 82.0 428.7 83.0 429.2 84.0 429.7 85.0 430.2 86.0 430.7 87.0 431.1 88.0 431.6 89.0 432.2 90.0 432.7 91.0 433.2 92.0 433.8 93.0 434.3 94.0 434.9 95.0 435.5 96.0 436.1 97.0 436.7 98.0 437.4 99.0 438.1 100.0 438.7 101.0 439.4 102.0 440.0 103.0 440.7 104.0 441.3 105.0 441.9 106.0 442.6 107.0 443.2 108.0 443.7 109.0 444.3 110.0 444.8 111.0 445.3 112.0 445.9 113.0 446.4 114.0 447.0 115.0 447.7 116.0 448.4 117.0 449.2 118.0 450.0 119.0 451.0 120.0 452.0 121.0 453.2 122.0 454.3 123.0 455.6 124.0 456.9 125.0 458.2 126.0 459.8 127.0 461.4 128.0 463.1 129.0 464.8 130.0 466.4 131.0 468.1 132.0 469.6 133.0 471.3 134.0 472.9 135.0 474.6 136.0 476.1 137.0 477.6 138.0 478.8 139.0 479.9 140.0 480.8 141.0 481.5 142.0 482.2 143.0 482.9 144.0 483.6 144.5 484.0 H215.6" fill="none" stroke="#3030ff" stroke-width="1.2"/><path d="M44.0 416.2 45.0 416.8 46.0 417.5 47.0 418.1 48.0 418.8 49.0 419.4 50.0 420.1 51.0 420.7 52.0 421.4 53.0 422.0 54.0 422.7 55.0 423.3 56.0 424.0 57.0 424.6 58.0 425.3 59.0 426.0 60.0 426.7 61.0 427.4 62.0 427.9 63.0 428.2 64.0 428.5 65.0 428.7 66.0 428.9 67.0 429.2 68.0 429.4 69.0 429.7 70.0 429.9 71.0 430.1 72.0 430.4 73.0 430.6 74.0 430.9 75.0 431.2 76.0 431.6 77.0 431.9 78.0 432.3 79.0 432.8 80.0 433.2 81.0 433.7 82.0 434.2 83.0 434.7 84.0 435.3 85.0 435.8 86.0 436.4 87.0 437.0 88.0 437.6 89.0 438.2 90.0 438.9 91.0 439.7 92.0 440.6 93.0 441.4 94.0 442.2 95.0 443.0 96.0 443.7 97.0 444.5 98.0 445.2 99.0 445.9 100.0 446.6 101.0 447.3 102.0 448.0 103.0 448.7 104.0 449.4 105.0 450.0 106.0 450.7 107.0 451.3 108.0 451.8 109.0 452.3 110.0 452.9 111.0 453.4 112.0 453.9 113.0 454.4 114.0 455.0 115.0 455.6 116.0 456.2 117.0 457.0 118.0 457.8 119.0 458.6 120.0 459.6 121.0 460.6 122.0 461.8 123.0 462.9 124.0 464.2 125.0 465.5 126.0 467.1 127.0 468.8 128.0 470.6 129.0 472.4 130.0 474.2 131.0 476.0 132.0 477.7 133.0 479.6 134.0 481.5 135.0 483.4 136.0 485.2 137.0 486.8 138.0 488.2 139.0 489.3 140.0 490.3 141.0 491.1 142.0 491.9 143.0 492.5 144.0 493.0 145.0 493.3 146.0 493.5 147.0 493.7 H215.6" fill="none" stroke="#ff3030" stroke-width="1.2"/><path d="M215.6 496.6 H145.0 L 144.0 496.0 143.0 495.5 142.0 494.9 141.0 494.4 140.0 493.7 139.0 493.0 138.0 492.0 137.0 490.8 136.0 489.4 135.0 487.8 134.0 486.1 133.0 484.4 132.0 482.8 131.0 481.2 130.0 479.6 129.0 477.9 128.0 476.2 127.0 474.5 126.0 472.9 125.0 471.4 124.0 470.0 123.0 468.6 122.0 467.2 121.0 465.9 120.0 464.6 119.0 463.5 118.0 462.4 117.0 461.6 116.0 460.8 115.0 460.2 114.0 459.6 113.0 459.1 112.0 458.6 111.0 458.2 110.0 457.7 109.0 457.3 108.0 456.8 107.0 456.2 106.0 455.7 105.0 455.0 104.0 454.3 103.0 453.6 102.0 452.8 101.0 452.0 100.0 451.2 99.0 450.4 98.0 449.6 97.0 448.8 96.0 448.0 95.0 447.2 94.0 446.3 93.0 445.4 92.0 444.6 91.0 443.7 90.0 442.9 89.0 442.2 88.0 441.6 87.0 441.0 86.0 440.4 85.0 439.8 84.0 439.2 83.0 438.7 82.0 438.2 81.0 437.7 80.0 437.2 79.0 436.7 78.0 436.3 77.0 435.9 76.0 435.5 75.0 435.1 74.0 434.8 73.0 434.5 72.0 434.2 71.0 433.9 70.0 433.6 69.0 433.3 68.0 433.0 67.0 432.8 66.0 432.5 65.0 432.2 64.0 431.9 63.0 431.7 62.0 431.3 61.0 430.8 60.0 430.2 59.0 429.5 58.0 428.8 57.0 428.2 56.0 427.5 55.0 426.9 54.0 426.3 53.0 425.6 52.0 425.0 51.0 424.4 50.0 423.8 49.0 423.1 48.0 422.5 47.0 421.9 46.0 421.3 45.0 420.6 44.0 420.0" fill="none" stroke="#3030ff" stroke-width="1.7" stroke-dasharray="4.8 5.5" stroke-dashoffset="8.90"/><path d="M215.6 503.9 H145.0 L 144.0 503.4 143.0 503.0 142.0 502.6 141.0 502.1 140.0 501.6 139.0 500.9 138.0 500.0 137.0 498.6 136.0 496.9 135.0 494.9 134.0 492.8 133.0 490.6 132.0 488.7 131.0 486.9 130.0 485.2 129.0 483.5 128.0 481.8 127.0 480.2 126.0 478.6 125.0 477.2 124.0 475.9 123.0 474.7 122.0 473.5 121.0 472.5 120.0 471.4 119.0 470.5 118.0 469.6 117.0 468.8 116.0 468.2 115.0 467.5 114.0 467.0 113.0 466.5 112.0 466.0 111.0 465.5 110.0 465.1 109.0 464.6 108.0 464.1 107.0 463.5 106.0 462.9 105.0 462.1 104.0 461.3 103.0 460.4 102.0 459.4 101.0 458.4 100.0 457.4 99.0 456.4 98.0 455.5 97.0 454.6 96.0 453.7 95.0 452.9 94.0 452.0 93.0 451.2 92.0 450.4 91.0 449.6 90.0 448.9 89.0 448.2 88.0 447.6 87.0 447.1 86.0 446.5 85.0 446.0 84.0 445.5 83.0 445.0 82.0 444.6 81.0 444.2 80.0 443.7 79.0 443.3 78.0 442.9 77.0 442.6 76.0 442.2 75.0 441.8 74.0 441.5 73.0 441.2 72.0 440.9 71.0 440.6 70.0 440.3 69.0 440.0 68.0 439.7 67.0 439.4 66.0 439.1 65.0 438.8 64.0 438.6 63.0 438.3 62.0 437.9 61.0 437.4 60.0 436.6 59.0 435.9 58.0 435.1 57.0 434.4 56.0 433.7 55.0 433.0 54.0 432.3 53.0 431.6 52.0 430.9 51.0 430.2 50.0 429.5 49.0 428.8 48.0 428.1 47.0 427.4 46.0 426.7 45.0 426.0 44.0 425.3" fill="none" stroke="#ff3030" stroke-width="1.7" stroke-dasharray="4.8 5.5" stroke-dashoffset="8.20"/><rect x="44.00" y="372.20" width="171.60" height="138.30" fill="none" stroke="#777" stroke-width="1.3"/><line x1="44.00" y1="510.50" x2="44.00" y2="513.50" stroke="#444" stroke-width="1"/><text x="44.20" y="520.50" font-size="6" text-anchor="middle">10<tspan font-size="3.8" dy="-2.2">0</tspan></text><line x1="61.16" y1="510.50" x2="61.16" y2="512.50" stroke="#444" stroke-width="1"/><line x1="78.32" y1="510.50" x2="78.32" y2="513.50" stroke="#444" stroke-width="1"/><text x="78.52" y="520.50" font-size="6" text-anchor="middle">10<tspan font-size="3.8" dy="-2.2">2</tspan></text><line x1="95.48" y1="510.50" x2="95.48" y2="512.50" stroke="#444" stroke-width="1"/><line x1="112.64" y1="510.50" x2="112.64" y2="513.50" stroke="#444" stroke-width="1"/><text x="112.84" y="520.50" font-size="6" text-anchor="middle">10<tspan font-size="3.8" dy="-2.2">4</tspan></text><line x1="129.80" y1="510.50" x2="129.80" y2="512.50" stroke="#444" stroke-width="1"/><line x1="146.96" y1="510.50" x2="146.96" y2="513.50" stroke="#444" stroke-width="1"/><text x="147.16" y="520.50" font-size="6" text-anchor="middle">10<tspan font-size="3.8" dy="-2.2">6</tspan></text><line x1="164.12" y1="510.50" x2="164.12" y2="512.50" stroke="#444" stroke-width="1"/><line x1="181.28" y1="510.50" x2="181.28" y2="513.50" stroke="#444" stroke-width="1"/><text x="181.48" y="520.50" font-size="6" text-anchor="middle">10<tspan font-size="3.8" dy="-2.2">8</tspan></text><line x1="198.44" y1="510.50" x2="198.44" y2="512.50" stroke="#444" stroke-width="1"/><line x1="215.60" y1="510.50" x2="215.60" y2="513.50" stroke="#444" stroke-width="1"/><text x="215.80" y="520.50" font-size="6" text-anchor="middle">10<tspan font-size="3.8" dy="-2.2">10</tspan></text><line x1="41.00" y1="372.20" x2="44.00" y2="372.20" stroke="#444" stroke-width="1"/><text x="39.50" y="374.40" font-size="6" text-anchor="end">5×10<tspan font-size="3.8" dy="-2.2">3</tspan></text><line x1="42.00" y1="389.49" x2="44.00" y2="389.49" stroke="#444" stroke-width="1"/><line x1="41.00" y1="406.77" x2="44.00" y2="406.77" stroke="#444" stroke-width="1"/><text x="39.50" y="408.97" font-size="6" text-anchor="end">4×10<tspan font-size="3.8" dy="-2.2">3</tspan></text><line x1="42.00" y1="424.06" x2="44.00" y2="424.06" stroke="#444" stroke-width="1"/><line x1="41.00" y1="441.35" x2="44.00" y2="441.35" stroke="#444" stroke-width="1"/><text x="39.50" y="443.55" font-size="6" text-anchor="end">3×10<tspan font-size="3.8" dy="-2.2">3</tspan></text><line x1="42.00" y1="458.64" x2="44.00" y2="458.64" stroke="#444" stroke-width="1"/><line x1="41.00" y1="475.93" x2="44.00" y2="475.93" stroke="#444" stroke-width="1"/><text x="39.50" y="478.12" font-size="6" text-anchor="end">2×10<tspan font-size="3.8" dy="-2.2">3</tspan></text><line x1="42.00" y1="493.21" x2="44.00" y2="493.21" stroke="#444" stroke-width="1"/><line x1="41.00" y1="510.50" x2="44.00" y2="510.50" stroke="#444" stroke-width="1"/><text x="39.50" y="512.70" font-size="6" text-anchor="end">1×10<tspan font-size="3.8" dy="-2.2">3</tspan></text><text x="130.00" y="532.10" font-size="7.3" text-anchor="middle">Time (s)</text><text transform="translate(21.20 461.95) rotate(-90)"><tspan x="0" y="0" font-size="7.6">C</tspan><tspan x="5.0" y="-3.5" font-size="5.4">RVE1</tspan><tspan x="5.9" y="1.9" font-size="4.6">44</tspan><tspan x="20.4" y="0" font-size="8.1">(MPa)</tspan></text><text x="70.10" y="393.10" font-size="7.2"><tspan font-style="italic">T</tspan>=60°C</text><line x1="130.20" y1="381.50" x2="146.80" y2="381.50" stroke="#3030ff" stroke-width="1.2"/><text x="150.10" y="384.50" font-size="7.4">H-RVE1@b/a=1.05</text><line x1="130.20" y1="390.45" x2="146.80" y2="390.45" stroke="#ff3030" stroke-width="1.2"/><text x="150.10" y="393.45" font-size="7.4">S-RVE1@b/a=1.05</text><line x1="130.20" y1="399.40" x2="146.80" y2="399.40" stroke="#3030ff" stroke-width="1.7" stroke-dasharray="5 5" /><text x="150.10" y="402.40" font-size="7.4">H-RVE1@b/a=1.0</text><line x1="130.20" y1="408.35" x2="146.80" y2="408.35" stroke="#ff3030" stroke-width="1.7" stroke-dasharray="5 5" /><text x="150.10" y="411.35" font-size="7.4">S-RVE1@b/a=1.0</text><text x="111.40" y="545.60" font-size="12.00" style="stroke-width:0.3px">(e)</text><text x="124.20" y="546.50" font-size="7" font-style="italic" style="stroke-width:0.25px">C</text><path d="M125.40 540.90 q0.9 -0.9 1.8 0 t1.8 0" fill="none" stroke="#333" stroke-width="0.7"/><text x="129.80" y="543.50" font-size="4.6" font-style="italic" letter-spacing="0.35">RVE1</text><text x="129.60" y="549.20" font-size="4.2">44</text></g>
<g><path d="M269.0 386.6 270.0 387.5 271.0 388.4 272.0 389.2 273.0 390.1 274.0 391.0 275.0 391.9 276.0 392.8 277.0 393.7 278.0 394.5 279.0 395.4 280.0 396.3 281.0 397.2 282.0 398.1 283.0 399.0 284.0 400.0 285.0 400.9 286.0 401.6 287.0 402.1 288.0 402.5 289.0 402.8 290.0 403.2 291.0 403.6 292.0 404.0 293.0 404.4 294.0 404.8 295.0 405.2 296.0 405.6 297.0 406.0 298.0 406.4 299.0 406.8 300.0 407.1 301.0 407.6 302.0 408.0 303.0 408.5 304.0 409.0 305.0 409.5 306.0 410.1 307.0 410.8 308.0 411.5 309.0 412.2 310.0 412.9 311.0 413.6 312.0 414.4 313.0 415.2 314.0 415.9 315.0 416.7 316.0 417.4 317.0 418.2 318.0 419.0 319.0 419.7 320.0 420.5 321.0 421.3 322.0 422.1 323.0 422.9 324.0 423.7 325.0 424.5 326.0 425.4 327.0 426.2 328.0 427.0 329.0 427.9 330.0 428.7 331.0 429.5 332.0 430.4 333.0 431.2 334.0 432.1 335.0 432.9 336.0 433.8 337.0 434.7 338.0 435.5 339.0 436.4 340.0 437.3 341.0 438.2 342.0 439.0 343.0 439.8 344.0 440.6 345.0 441.5 346.0 442.6 347.0 443.8 348.0 445.3 349.0 447.1 350.0 449.0 351.0 451.1 352.0 453.2 353.0 455.3 354.0 457.4 355.0 459.7 356.0 462.1 357.0 464.5 358.0 466.9 359.0 469.1 360.0 471.2 361.0 473.2 362.0 475.3 363.0 477.3 364.0 479.1 365.0 480.7 366.0 482.0 367.0 482.8 368.0 483.4 369.0 483.9 370.0 484.3 371.0 484.8 371.9 485.2 H440.6" fill="none" stroke="#3030ff" stroke-width="1.2"/><path d="M269.0 384.3 270.0 385.1 271.0 385.8 272.0 386.6 273.0 387.4 274.0 388.1 275.0 388.9 276.0 389.7 277.0 390.4 278.0 391.2 279.0 391.9 280.0 392.7 281.0 393.5 282.0 394.2 283.0 395.0 284.0 395.9 285.0 396.7 286.0 397.3 287.0 397.8 288.0 398.2 289.0 398.6 290.0 399.0 291.0 399.5 292.0 399.9 293.0 400.3 294.0 400.7 295.0 401.2 296.0 401.6 297.0 402.0 298.0 402.4 299.0 402.8 300.0 403.2 301.0 403.6 302.0 404.0 303.0 404.5 304.0 404.9 305.0 405.4 306.0 406.0 307.0 406.5 308.0 407.1 309.0 407.7 310.0 408.3 311.0 408.9 312.0 409.5 313.0 410.2 314.0 410.8 315.0 411.5 316.0 412.2 317.0 412.9 318.0 413.6 319.0 414.3 320.0 415.1 321.0 415.9 322.0 416.7 323.0 417.6 324.0 418.4 325.0 419.2 326.0 420.1 327.0 420.9 328.0 421.7 329.0 422.5 330.0 423.3 331.0 424.0 332.0 424.7 333.0 425.4 334.0 426.1 335.0 426.8 336.0 427.5 337.0 428.3 338.0 429.0 339.0 429.8 340.0 430.7 341.0 431.6 342.0 432.6 343.0 433.6 344.0 434.7 345.0 435.9 346.0 437.2 347.0 438.6 348.0 440.1 349.0 441.8 350.0 443.7 351.0 445.6 352.0 447.5 353.0 449.4 354.0 451.3 355.0 453.3 356.0 455.3 357.0 457.3 358.0 459.4 359.0 461.3 360.0 463.2 361.0 465.1 362.0 467.1 363.0 469.1 364.0 471.0 365.0 472.7 366.0 473.9 367.0 474.8 368.0 475.4 369.0 475.9 370.0 476.3 371.0 476.8 371.9 477.2 H440.6" fill="none" stroke="#ff3030" stroke-width="1.2"/><path d="M440.6 494.5 H374.6 L 374.0 494.4 373.0 494.4 372.0 494.3 371.0 494.2 370.0 494.1 369.0 494.0 368.0 493.8 367.0 493.4 366.0 492.5 365.0 491.2 364.0 489.7 363.0 488.0 362.0 486.3 361.0 484.7 360.0 483.1 359.0 481.3 358.0 479.4 357.0 477.5 356.0 475.5 355.0 473.4 354.0 471.3 353.0 468.9 352.0 466.4 351.0 463.9 350.0 461.4 349.0 459.2 348.0 457.3 347.0 455.7 346.0 454.2 345.0 452.8 344.0 451.5 343.0 450.2 342.0 449.0 341.0 447.8 340.0 446.6 339.0 445.4 338.0 444.3 337.0 443.1 336.0 442.1 335.0 441.0 334.0 439.9 333.0 438.9 332.0 437.9 331.0 437.0 330.0 436.0 329.0 435.0 328.0 434.1 327.0 433.2 326.0 432.2 325.0 431.3 324.0 430.4 323.0 429.5 322.0 428.7 321.0 427.8 320.0 427.0 319.0 426.2 318.0 425.4 317.0 424.6 316.0 423.8 315.0 423.1 314.0 422.3 313.0 421.6 312.0 420.9 311.0 420.2 310.0 419.5 309.0 418.8 308.0 418.2 307.0 417.5 306.0 416.9 305.0 416.3 304.0 415.7 303.0 415.1 302.0 414.6 301.0 414.1 300.0 413.6 299.0 413.1 298.0 412.7 297.0 412.2 296.0 411.7 295.0 411.2 294.0 410.7 293.0 410.2 292.0 409.6 291.0 409.1 290.0 408.5 289.0 407.9 288.0 407.3 287.0 406.7 286.0 406.0 285.0 405.2 284.0 404.3 283.0 403.2 282.0 402.0 281.0 400.9 280.0 399.7 279.0 398.6 278.0 397.5 277.0 396.3 276.0 395.2 275.0 394.1 274.0 392.9 273.0 391.8 272.0 390.7 271.0 389.6 270.0 388.4 269.0 387.3" fill="none" stroke="#3030ff" stroke-width="1.7" stroke-dasharray="4.8 5.5" stroke-dashoffset="9.30"/><path d="M440.6 490.5 H373.2 L 373.0 490.5 372.0 490.3 371.0 490.1 370.0 490.0 369.0 489.8 368.0 489.6 367.0 489.3 366.0 488.8 365.0 487.7 364.0 486.0 363.0 484.0 362.0 481.9 361.0 479.9 360.0 477.7 359.0 475.4 358.0 472.8 357.0 470.3 356.0 467.8 355.0 465.5 354.0 463.3 353.0 461.3 352.0 459.3 351.0 457.3 350.0 455.4 349.0 453.7 348.0 452.0 347.0 450.4 346.0 448.8 345.0 447.4 344.0 445.9 343.0 444.6 342.0 443.4 341.0 442.3 340.0 441.3 339.0 440.4 338.0 439.5 337.0 438.7 336.0 437.9 335.0 437.0 334.0 436.2 333.0 435.3 332.0 434.4 331.0 433.6 330.0 432.7 329.0 431.8 328.0 430.9 327.0 429.9 326.0 429.0 325.0 428.0 324.0 427.1 323.0 426.2 322.0 425.3 321.0 424.4 320.0 423.5 319.0 422.6 318.0 421.7 317.0 420.9 316.0 420.0 315.0 419.2 314.0 418.4 313.0 417.6 312.0 416.9 311.0 416.2 310.0 415.5 309.0 414.8 308.0 414.1 307.0 413.5 306.0 412.9 305.0 412.3 304.0 411.7 303.0 411.1 302.0 410.6 301.0 410.1 300.0 409.6 299.0 409.1 298.0 408.7 297.0 408.2 296.0 407.7 295.0 407.2 294.0 406.6 293.0 406.0 292.0 405.4 291.0 404.8 290.0 404.2 289.0 403.5 288.0 402.8 287.0 402.1 286.0 401.3 285.0 400.5 284.0 399.6 283.0 398.6 282.0 397.6 281.0 396.6 280.0 395.6 279.0 394.7 278.0 393.7 277.0 392.7 276.0 391.8 275.0 390.8 274.0 389.8 273.0 388.9 272.0 387.9 271.0 386.9 270.0 386.0 269.0 385.0" fill="none" stroke="#ff3030" stroke-width="1.7" stroke-dasharray="4.8 5.5" stroke-dashoffset="0.60"/><rect x="269.00" y="372.20" width="171.60" height="138.30" fill="none" stroke="#777" stroke-width="1.3"/><line x1="269.00" y1="510.50" x2="269.00" y2="513.50" stroke="#444" stroke-width="1"/><text x="269.20" y="520.50" font-size="6" text-anchor="middle">10<tspan font-size="3.8" dy="-2.2">0</tspan></text><line x1="286.16" y1="510.50" x2="286.16" y2="512.50" stroke="#444" stroke-width="1"/><line x1="303.32" y1="510.50" x2="303.32" y2="513.50" stroke="#444" stroke-width="1"/><text x="303.52" y="520.50" font-size="6" text-anchor="middle">10<tspan font-size="3.8" dy="-2.2">2</tspan></text><line x1="320.48" y1="510.50" x2="320.48" y2="512.50" stroke="#444" stroke-width="1"/><line x1="337.64" y1="510.50" x2="337.64" y2="513.50" stroke="#444" stroke-width="1"/><text x="337.84" y="520.50" font-size="6" text-anchor="middle">10<tspan font-size="3.8" dy="-2.2">4</tspan></text><line x1="354.80" y1="510.50" x2="354.80" y2="512.50" stroke="#444" stroke-width="1"/><line x1="371.96" y1="510.50" x2="371.96" y2="513.50" stroke="#444" stroke-width="1"/><text x="372.16" y="520.50" font-size="6" text-anchor="middle">10<tspan font-size="3.8" dy="-2.2">6</tspan></text><line x1="389.12" y1="510.50" x2="389.12" y2="512.50" stroke="#444" stroke-width="1"/><line x1="406.28" y1="510.50" x2="406.28" y2="513.50" stroke="#444" stroke-width="1"/><text x="406.48" y="520.50" font-size="6" text-anchor="middle">10<tspan font-size="3.8" dy="-2.2">8</tspan></text><line x1="423.44" y1="510.50" x2="423.44" y2="512.50" stroke="#444" stroke-width="1"/><line x1="440.60" y1="510.50" x2="440.60" y2="513.50" stroke="#444" stroke-width="1"/><text x="440.80" y="520.50" font-size="6" text-anchor="middle">10<tspan font-size="3.8" dy="-2.2">10</tspan></text><line x1="266.00" y1="372.20" x2="269.00" y2="372.20" stroke="#444" stroke-width="1"/><text x="264.50" y="374.40" font-size="6" text-anchor="end">5×10<tspan font-size="3.8" dy="-2.2">3</tspan></text><line x1="267.00" y1="389.49" x2="269.00" y2="389.49" stroke="#444" stroke-width="1"/><line x1="266.00" y1="406.77" x2="269.00" y2="406.77" stroke="#444" stroke-width="1"/><text x="264.50" y="408.97" font-size="6" text-anchor="end">4×10<tspan font-size="3.8" dy="-2.2">3</tspan></text><line x1="267.00" y1="424.06" x2="269.00" y2="424.06" stroke="#444" stroke-width="1"/><line x1="266.00" y1="441.35" x2="269.00" y2="441.35" stroke="#444" stroke-width="1"/><text x="264.50" y="443.55" font-size="6" text-anchor="end">3×10<tspan font-size="3.8" dy="-2.2">3</tspan></text><line x1="267.00" y1="458.64" x2="269.00" y2="458.64" stroke="#444" stroke-width="1"/><line x1="266.00" y1="475.93" x2="269.00" y2="475.93" stroke="#444" stroke-width="1"/><text x="264.50" y="478.12" font-size="6" text-anchor="end">2×10<tspan font-size="3.8" dy="-2.2">3</tspan></text><line x1="267.00" y1="493.21" x2="269.00" y2="493.21" stroke="#444" stroke-width="1"/><line x1="266.00" y1="510.50" x2="269.00" y2="510.50" stroke="#444" stroke-width="1"/><text x="264.50" y="512.70" font-size="6" text-anchor="end">1×10<tspan font-size="3.8" dy="-2.2">3</tspan></text><text x="355.00" y="532.10" font-size="7.3" text-anchor="middle">Time (s)</text><text transform="translate(246.20 461.95) rotate(-90)"><tspan x="0" y="0" font-size="7.6">C</tspan><tspan x="5.0" y="-3.5" font-size="5.4">RVE1</tspan><tspan x="5.9" y="1.9" font-size="4.6">55</tspan><tspan x="20.4" y="0" font-size="8.1">(MPa)</tspan></text><text x="293.90" y="389.60" font-size="7.2"><tspan font-style="italic">T</tspan>=60°C</text><line x1="358.90" y1="381.50" x2="375.50" y2="381.50" stroke="#3030ff" stroke-width="1.2"/><text x="378.80" y="384.50" font-size="7.4">H-RVE1@b/a=1.05</text><line x1="358.90" y1="390.45" x2="375.50" y2="390.45" stroke="#ff3030" stroke-width="1.2"/><text x="378.80" y="393.45" font-size="7.4">S-RVE1@b/a=1.05</text><line x1="358.90" y1="399.40" x2="375.50" y2="399.40" stroke="#3030ff" stroke-width="1.7" stroke-dasharray="5 5" /><text x="378.80" y="402.40" font-size="7.4">H-RVE1@b/a=1.0</text><line x1="358.90" y1="408.35" x2="375.50" y2="408.35" stroke="#ff3030" stroke-width="1.7" stroke-dasharray="5 5" /><text x="378.80" y="411.35" font-size="7.4">S-RVE1@b/a=1.0</text><text x="339.60" y="546.20" font-size="10.80" style="stroke-width:0.3px">(f)</text><text x="350.80" y="546.20" font-size="7" font-style="italic" style="stroke-width:0.25px">C</text><path d="M352.00 540.60 q0.9 -0.9 1.8 0 t1.8 0" fill="none" stroke="#333" stroke-width="0.7"/><text x="356.20" y="543.00" font-size="4.6" font-style="italic" letter-spacing="0.35">RVE1</text><text x="355.60" y="549.20" font-size="4.2">55</text></g>
</svg></body></html>
